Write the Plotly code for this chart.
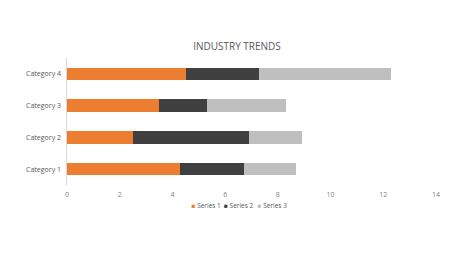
import plotly.graph_objects as go

categories = ["Category 1", "Category 2", "Category 3", "Category 4"]
series_names = ["Series 1", "Series 2", "Series 3"]
series1 = [4.3, 2.5, 3.5, 4.5]
series2 = [2.4, 4.4, 1.8, 2.8]
series3 = [2, 2, 3, 5]
x_ticks = [0, 2, 4, 6, 8, 10, 12, 14]
colors = ["#ED7D31", "#404040", "#BFBFBF"]

fig = go.Figure()
for name, vals, color in zip(series_names, [series1, series2, series3], colors):
    fig.add_trace(go.Bar(y=categories, x=vals, name=name, orientation="h",
                         marker=dict(color=color, line=dict(width=0)),
                         showlegend=False))
# legend entries: colored square glyph in the label, one compact legend per series
legend_ids = ["legend", "legend2", "legend3"]
legend_x = [0.229, 0.317, 0.408]
for name, color, lid in zip(series_names, colors, legend_ids):
    fig.add_trace(go.Scatter(x=[None], y=[None], mode="none",
                             name=f'<span style="color:{color}">■</span> {name}',
                             showlegend=True, legend=lid))

legend_common = dict(orientation="h", xanchor="left", y=-0.16, yanchor="middle",
                     font=dict(size=6.5, color="#595959"), bgcolor="rgba(0,0,0,0)")

fig.update_layout(
    barmode="stack",
    bargap=0.6,
    width=474, height=266,
    margin=dict(l=67, r=38, t=58, b=81),
    paper_bgcolor="white", plot_bgcolor="white",
    font=dict(family="Open Sans", color="#595959", size=7),
    title=dict(text="INDUSTRY TRENDS", x=0.5, xanchor="center",
               y=1 - 46/266, yref="container", yanchor="middle",
               font=dict(size=10, color="#595959", family="Open Sans")),
    xaxis=dict(range=[0, 14], tickvals=x_ticks, showgrid=False, zeroline=False,
               showline=False, ticks="outside", ticklen=3, tickcolor="rgba(0,0,0,0)",
               tickfont=dict(size=7, color="#7F7F7F")),
    yaxis=dict(showline=True, linecolor="#D9D9D9", linewidth=1, ticks="",
               showgrid=False, tickfont=dict(size=7, color="#595959"), ticksuffix="  "),
    legend=dict(x=legend_x[0], **legend_common),
    legend2=dict(x=legend_x[1], **legend_common),
    legend3=dict(x=legend_x[2], **legend_common),
    showlegend=True,
)
fig.write_html("out.html")
